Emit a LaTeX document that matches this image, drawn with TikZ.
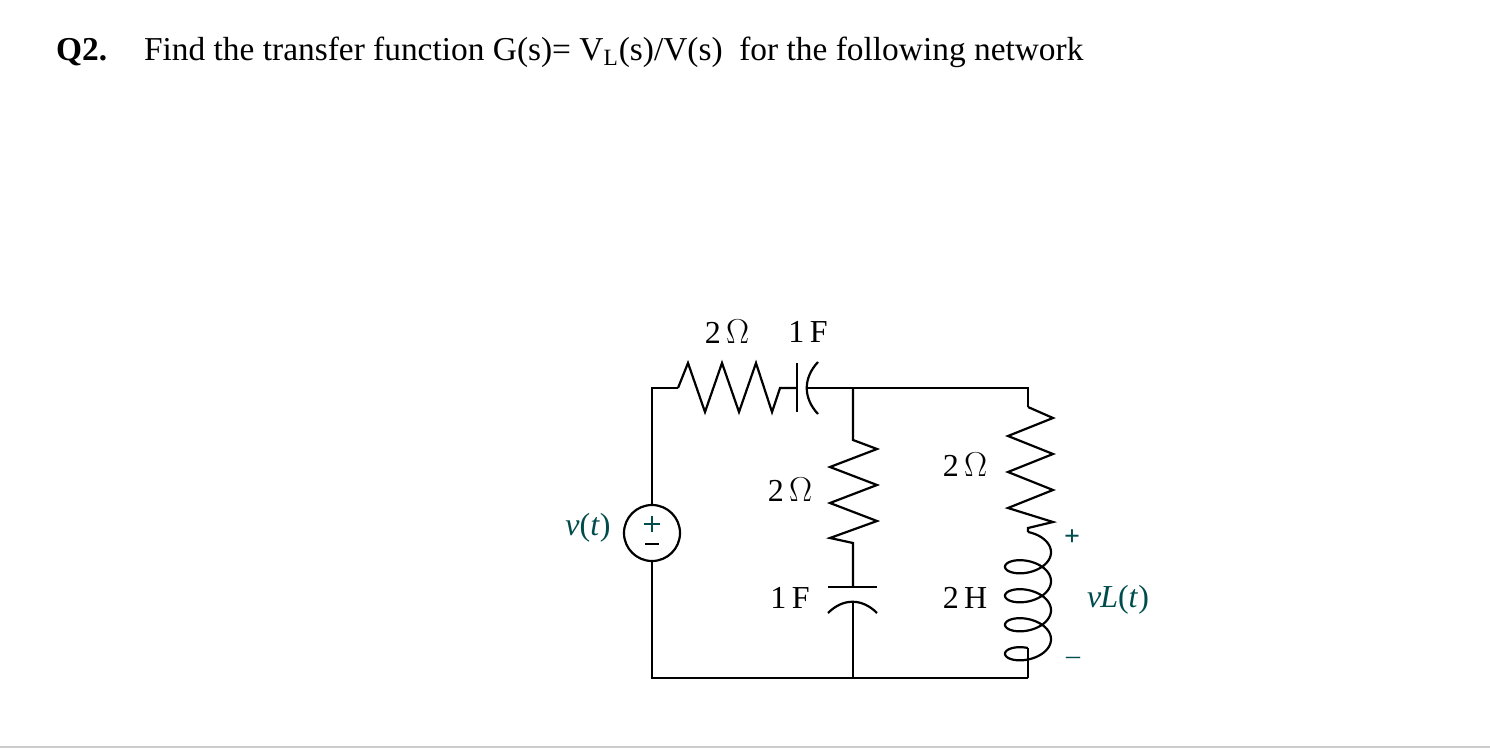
\documentclass[tikz,border=0pt]{standalone}
\usepackage{fontspec}
\setmainfont{Liberation Serif}
\begin{document}
\begin{tikzpicture}[x=0.5pt,y=-0.5pt,line width=1.1pt,
  lbl/.style={font=\fontsize{16}{18}\selectfont,inner sep=0pt},
  blbl/.style={lbl,text=teal!60!black}]
\useasboundingbox (0,0) rectangle (1490,750);
\draw[gray!40,line width=0.8pt] (0,747) -- (1490,747);
\node[anchor=west,inner sep=0pt,font=\fontsize{16.7}{18}\selectfont\bfseries] (q) at (55,52) {Q2.};
\node[anchor=west,inner sep=0pt,font=\fontsize{16.7}{18}\selectfont] (t) at (143,52) {Find the transfer function G(s)= V\textsubscript{L}(s)/V(s)\ \ for the following network};
% nodes
\coordinate (tl) at (652,388); \coordinate (bl) at (652,678);
\coordinate (tm) at (853,388); \coordinate (bm) at (853,678);
\coordinate (tr) at (1028,388); \coordinate (br) at (1028,678);
\node[circle,draw,minimum size=28pt,inner sep=0pt] (src) at (652,533) {};
\draw[teal!60!black,line width=1pt] (644,524) -- (660,524) (652,516) -- (652,532);
\draw[black,line width=1pt] (645,544) -- (659,544);
% left branch
\draw (src.north) -- (tl) -- (678,388);
\draw (src.south) -- (bl) -- (bm) -- (br);
% top resistor
\draw (678,388) -- (688,363) -- (705,412) -- (722,363) -- (739,412) -- (756,363) -- (772,412) -- (780,388) -- (797,388);
\draw (797,363) -- (797,412);
\draw (818,362) .. controls (803,378) and (803,398) .. (818,414);
\draw (806,388) -- (tm) -- (tr) -- (1028,407);
% middle branch
\draw (tm) -- (853,440) -- (877,449) -- (830,467) -- (877,485) -- (830,503) -- (877,521) -- (830,538) -- (853,543) -- (853,587);
\draw (828,587) -- (877,587);
\draw (828,613) .. controls (843,598) and (862,598) .. (877,613);
\draw (853,603) -- (bm);
% right branch
\draw (1028,407) -- (1053,418) -- (1008,436) -- (1053,454) -- (1008,472) -- (1053,490) -- (1008,508) -- (1053,522) -- (1028,528) -- (1028,532);
\draw plot[domain=0:25.13,samples=240,variable=\t] ({1028+23*sin(\t r)},{545+29*\t/6.283-13*cos(\t r)});
\draw (1028,648) -- (1028,660) -- (br);
% labels
\node[lbl] at (727,332) {2\,$\Omega$};
\node[lbl] at (808,332) {1\,F};
\node[lbl] at (790,490) {2\,$\Omega$};
\node[lbl] at (965,465) {2\,$\Omega$};
\node[lbl] at (790,598) {1\,F};
\node[lbl] at (965,598) {2\,H};
\node[blbl] at (588,528) {\textit{v}(\textit{t})};
\node[blbl,font=\fontsize{14}{16}\selectfont\bfseries] at (1072,538) {+};
\node[blbl,font=\fontsize{14}{16}\selectfont] at (1073,661) {--};
\node[blbl] at (1118,600) {\textit{v\kern-0.5pt L}(\textit{t})};
\end{tikzpicture}
\end{document}
